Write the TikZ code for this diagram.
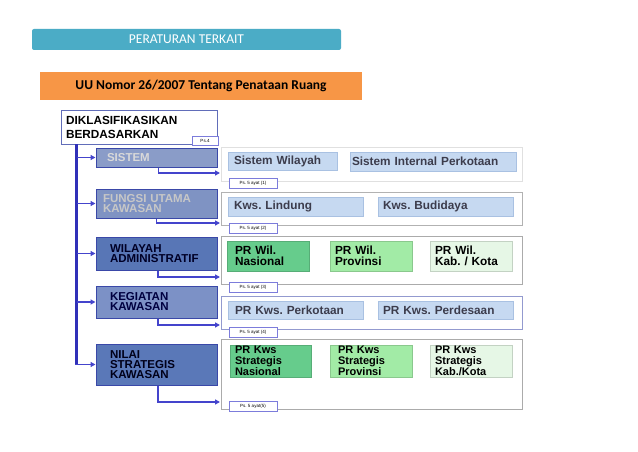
\documentclass[tikz,border=0pt]{standalone}
\usepackage{fontspec}
\setmainfont{Liberation Sans}
\newfontfamily\calibri{Carlito}
\usepackage{tikz}
\usetikzlibrary{arrows.meta}
\usetikzlibrary{positioning}
\definecolor{mteal}{HTML}{4BACC6}
\definecolor{morange}{HTML}{F79646}
\definecolor{mframe}{HTML}{3A48A8}
\definecolor{mlink}{HTML}{4444CC}
\definecolor{mtrunk}{HTML}{3030B8}
\definecolor{mcatA}{HTML}{8A9CC8}
\definecolor{mcatB}{HTML}{7F93C3}
\definecolor{mcatC}{HTML}{5876B6}
\definecolor{mcatD}{HTML}{7C91C6}
\definecolor{mcatE}{HTML}{5A78B8}
\definecolor{mitem}{HTML}{C6D9F1}
\definecolor{mitemline}{HTML}{A9C1E2}
\definecolor{mitemtext}{HTML}{3C3C4C}
\definecolor{mgreenA}{HTML}{66CC8C}
\definecolor{mgreenB}{HTML}{A2EBA6}
\definecolor{mgreenC}{HTML}{E6F7E6}

\begin{document}
\frenchspacing
\begin{tikzpicture}[x=1pt, y=-1pt,
    catbox/.style={draw=mframe, line width=1pt, minimum width=121pt, inner ysep=0pt, align=left, font=\bfseries\fontsize{11.5}{10}\selectfont},
    panel/.style={draw=#1, fill=white, line width=1pt, minimum width=301pt},
    itembox/.style={draw=mitemline, fill=mitem, inner ysep=0pt, align=left, text=mitemtext, font=\bfseries\fontsize{11.8}{12}\selectfont},
    greenbox/.style={draw=#1!85!black, fill=#1, inner ysep=0pt, align=left, font=\bfseries\fontsize{11.8}{11.5}\selectfont},
    pslabel/.style={draw=mlink!70, fill=white, minimum width=48pt, minimum height=10pt, inner sep=0pt, font=\fontsize{4.5}{5}\selectfont},
    link/.style={draw=mlink, line width=1.6pt, -{Triangle[length=5pt, width=5pt]}}
  ]
    \fill [white] (0,0) rectangle (638,452);
    \useasboundingbox (0,0) rectangle (638,452);

    \node [fill=mteal, rounded corners=2pt, minimum width=309pt, minimum height=21pt, text=white, font=\calibri\fontsize{13.5}{15}\selectfont] (judul) at (186.5, 39.5) {PERATURAN TERKAIT};
    \node [fill=morange, minimum width=322pt, minimum height=28pt, font=\calibri\bfseries\fontsize{13.5}{15}\selectfont] (uu) at (201, 86) {UU Nomor 26/2007 Tentang Penataan Ruang};

    \node [draw=mframe!80, line width=0.8pt, minimum width=156pt, minimum height=34pt, text width=146pt, inner xsep=5pt, inner ysep=0pt, align=left, font=\bfseries\fontsize{11.8}{14}\selectfont] (root) at (139, 127) {DIKLASIFIKASIKAN\\BERDASARKAN};
    \node [pslabel, minimum width=26pt, minimum height=9pt] (ps0) at (205, 140.5) {Ps.4};

    \node [catbox, fill=mcatA, text=black!15, minimum height=19pt, text width=99pt, inner xsep=11pt] (sistem) at (156.5, 157.5) {SISTEM};
    \node [catbox, fill=mcatB, text=black!22, minimum height=29pt, text width=107pt, inner xsep=7pt] (fungsi) at (156.5, 203.5) {FUNGSI UTAMA\\KAWASAN};
    \node [catbox, fill=mcatC, text=black!85!blue, minimum height=33pt, text width=93pt, inner xsep=14pt] (wilayah) at (156.5, 253.5) {WILAYAH\\ADMINISTRATIF};
    \node [catbox, fill=mcatD, text=black!75!blue, minimum height=32pt, text width=93pt, inner xsep=14pt] (kegiatan) at (156.5, 302) {KEGIATAN\\KAWASAN};
    \node [catbox, fill=mcatE, text=black!90!blue, minimum height=41pt, text width=93pt, inner xsep=14pt] (nilai) at (156.5, 364.5) {NILAI\\STRATEGIS\\KAWASAN};

    \node [panel=black!12, minimum height=34pt] (pnlsistem) at (371.5, 164) {};
    \node [panel=black!30, minimum height=33pt] (pnlfungsi) at (371.5, 208.5) {};
    \node [panel=black!33, minimum height=48pt] (pnlwilayah) at (371.5, 260) {};
    \node [panel=mframe!55, minimum height=33pt] (pnlkegiatan) at (371.5, 312.5) {};
    \node [panel=black!33, minimum height=70pt] (pnlnilai) at (371.5, 374) {};

    \node [itembox, minimum height=18pt, text width=97pt, inner xsep=6pt] (sw) at (282.5, 161) {Sistem Wilayah};
    \node [itembox, minimum height=19pt, text width=162pt, inner xsep=2pt] (sip) at (433, 161.5) {Sistem Internal Perkotaan};
    \node [itembox, minimum height=19pt, text width=123pt, inner xsep=6pt] (lindung) at (295.5, 206.5) {Kws. Lindung};
    \node [itembox, minimum height=19pt, text width=125pt, inner xsep=5pt] (budidaya) at (445.5, 206.5) {Kws. Budidaya};

    \node [greenbox=mgreenA, minimum height=30pt, text width=66pt, inner xsep=8pt] (wilnas) at (268, 256) {PR Wil.\\Nasional};
    \node [greenbox=mgreenB, minimum height=30pt, text width=72pt, inner xsep=5pt] (wilprov) at (371, 256) {PR Wil.\\Provinsi};
    \node [greenbox=mgreenC, minimum height=30pt, text width=72pt, inner xsep=5pt] (wilkab) at (471, 256) {PR Wil.\\Kab. / Kota};

    \node [itembox, minimum height=18pt, text width=121pt, inner xsep=7pt] (kota) at (295.5, 310) {PR Kws. Perkotaan};
    \node [itembox, minimum height=18pt, text width=125pt, inner xsep=5pt] (desa) at (445.5, 310) {PR Kws. Perdesaan};

    \node [greenbox=mgreenA, minimum height=32pt, text width=71pt, inner xsep=5pt, font=\bfseries\fontsize{11}{11}\selectfont] (strnas) at (270.5, 361) {PR Kws\\Strategis\\Nasional};
    \node [greenbox=mgreenB, minimum height=32pt, text width=66pt, inner xsep=8pt, font=\bfseries\fontsize{11}{11}\selectfont] (strprov) at (371, 361) {PR Kws\\Strategis\\Provinsi};
    \node [greenbox=mgreenC, minimum height=32pt, text width=72pt, inner xsep=5pt, font=\bfseries\fontsize{11}{11}\selectfont] (strkab) at (471, 361) {PR Kws\\Strategis\\Kab./Kota};

    \node [pslabel] (ps1) at (253, 183.5) {Ps. 5 ayat (1)};
    \node [pslabel] (ps2) at (253, 228.5) {Ps. 5 ayat (2)};
    \node [pslabel] (ps3) at (253, 287.5) {Ps. 5 ayat (3)};
    \node [pslabel] (ps4) at (253, 332) {Ps. 5 ayat (4)};
    \node [pslabel] (ps5) at (253, 406) {Ps. 5 ayat(5)};

    \coordinate (trunk) at ([xshift=16pt]root.south west);
    \draw [mtrunk, line width=2.6pt] (trunk) -- (trunk |- nilai);
    \draw [link] (trunk |- sistem) -- (sistem);
    \draw [link] (trunk |- fungsi) -- (fungsi);
    \draw [link] (trunk |- wilayah) -- (wilayah);
    \draw [link] (trunk |- kegiatan) -- (kegiatan);
    \draw [link] ([xshift=-1.3pt]trunk |- nilai) -- (nilai);

    \coordinate (endsistem) at (220, 173);
    \coordinate (endfungsi) at (220, 223);
    \coordinate (endwilayah) at (220, 277);
    \coordinate (endkegiatan) at (220, 325);
    \coordinate (endnilai) at (220, 402);
    \draw [link] ([xshift=2pt]sistem.south) |- (endsistem);
    \draw [link] (fungsi.south) |- (endfungsi);
    \draw [link] ([xshift=1.5pt]wilayah.south) |- (endwilayah);
    \draw [link] ([xshift=1.5pt]kegiatan.south) |- (endkegiatan);
    \draw [link] ([xshift=1.5pt]nilai.south) |- (endnilai);
  \end{tikzpicture}
\end{document}
